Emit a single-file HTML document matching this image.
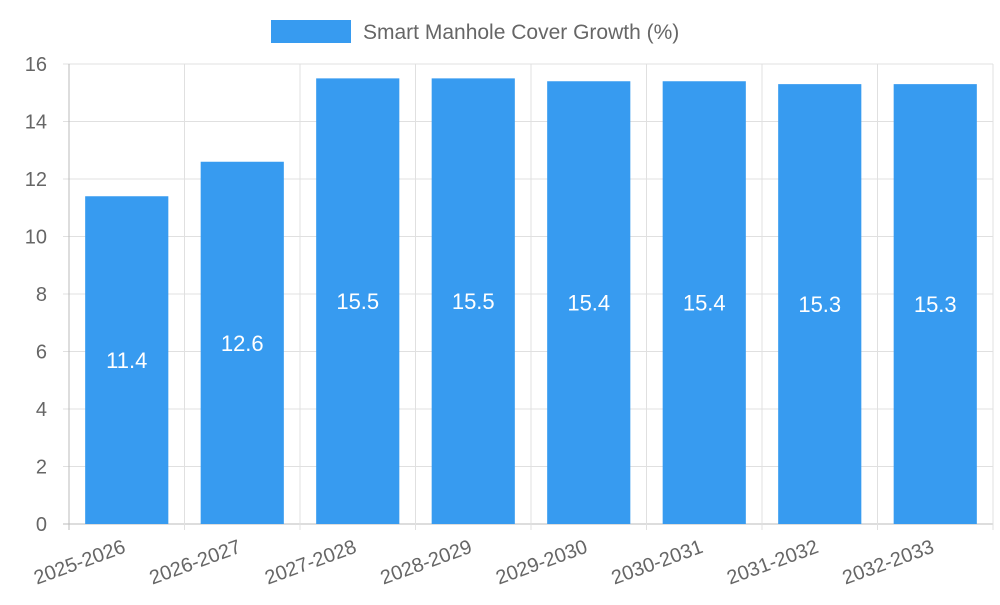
<!DOCTYPE html>
<html><head><meta charset="utf-8"><style>
body{margin:0;background:#fff;}
svg text{font-family:"Liberation Sans",sans-serif;}
</style></head><body>
<svg id="chart" width="1000" height="600">
<g>
<rect x="271" y="20" width="80" height="23" fill="#379bf0"/>
<text x="363" y="39" font-size="21" fill="#666">Smart Manhole Cover Growth (%)</text>
</g>
<g id="grid"></g><g id="bars"></g><g id="labels"></g>
</svg>
<script>
const categories=["2025-2026","2026-2027","2027-2028","2028-2029","2029-2030","2030-2031","2031-2032","2032-2033"];
const values=[11.4,12.6,15.5,15.5,15.4,15.4,15.3,15.3];
const yTicks=[0,2,4,6,8,10,12,14,16];
const NS="http://www.w3.org/2000/svg";
const L=69,R=993,T=64,B=524,yMax=16;
const y=v=>B-(v/yMax)*(B-T);
const bw=(R-L)/categories.length;
const x=i=>L+bw*i;
function mk(t,a,p){const e=document.createElementNS(NS,t);for(const k in a)e.setAttribute(k,a[k]);p.appendChild(e);return e;}
const g=document.getElementById('grid'),bg=document.getElementById('bars'),lg=document.getElementById('labels');
yTicks.forEach(v=>{
 const ln=mk('line',{x1:L-6,x2:R,y1:y(v),y2:y(v),stroke:v===0?'#bbb':'#e0e0e0','stroke-width':1},g);
 
 
 const t=mk('text',{x:47,y:y(v)+7,'text-anchor':'end','font-size':20,fill:'#666'},g);
 t.textContent=v;
 
 
});
for(let i=0;i<=categories.length;i++){
 const ln=mk('line',{x1:x(i),x2:x(i),y1:T,y2:B+6,stroke:i===0?'#bbb':'#e0e0e0','stroke-width':1},g);
 
 
}
categories.forEach((c,i)=>{
 const cx=x(i)+bw/2,w=bw*0.72;
 const r=mk('rect',{x:cx-w/2,y:y(values[i]),width:w,height:B-y(values[i]),fill:'#379bf0'},bg);
 
 
 const vt=mk('text',{x:cx,y:(y(values[i])+B)/2+8,'text-anchor':'middle','font-size':22,fill:'#fff'},lg);
 vt.textContent=values[i].toFixed(1);
 
 
 const xt=mk('text',{x:cx,y:B+28,'text-anchor':'end','font-size':20,fill:'#666',transform:`rotate(-20 ${cx} ${B+28})`},lg);
 xt.textContent=c;
 
 
});
</script>
</body></html>
